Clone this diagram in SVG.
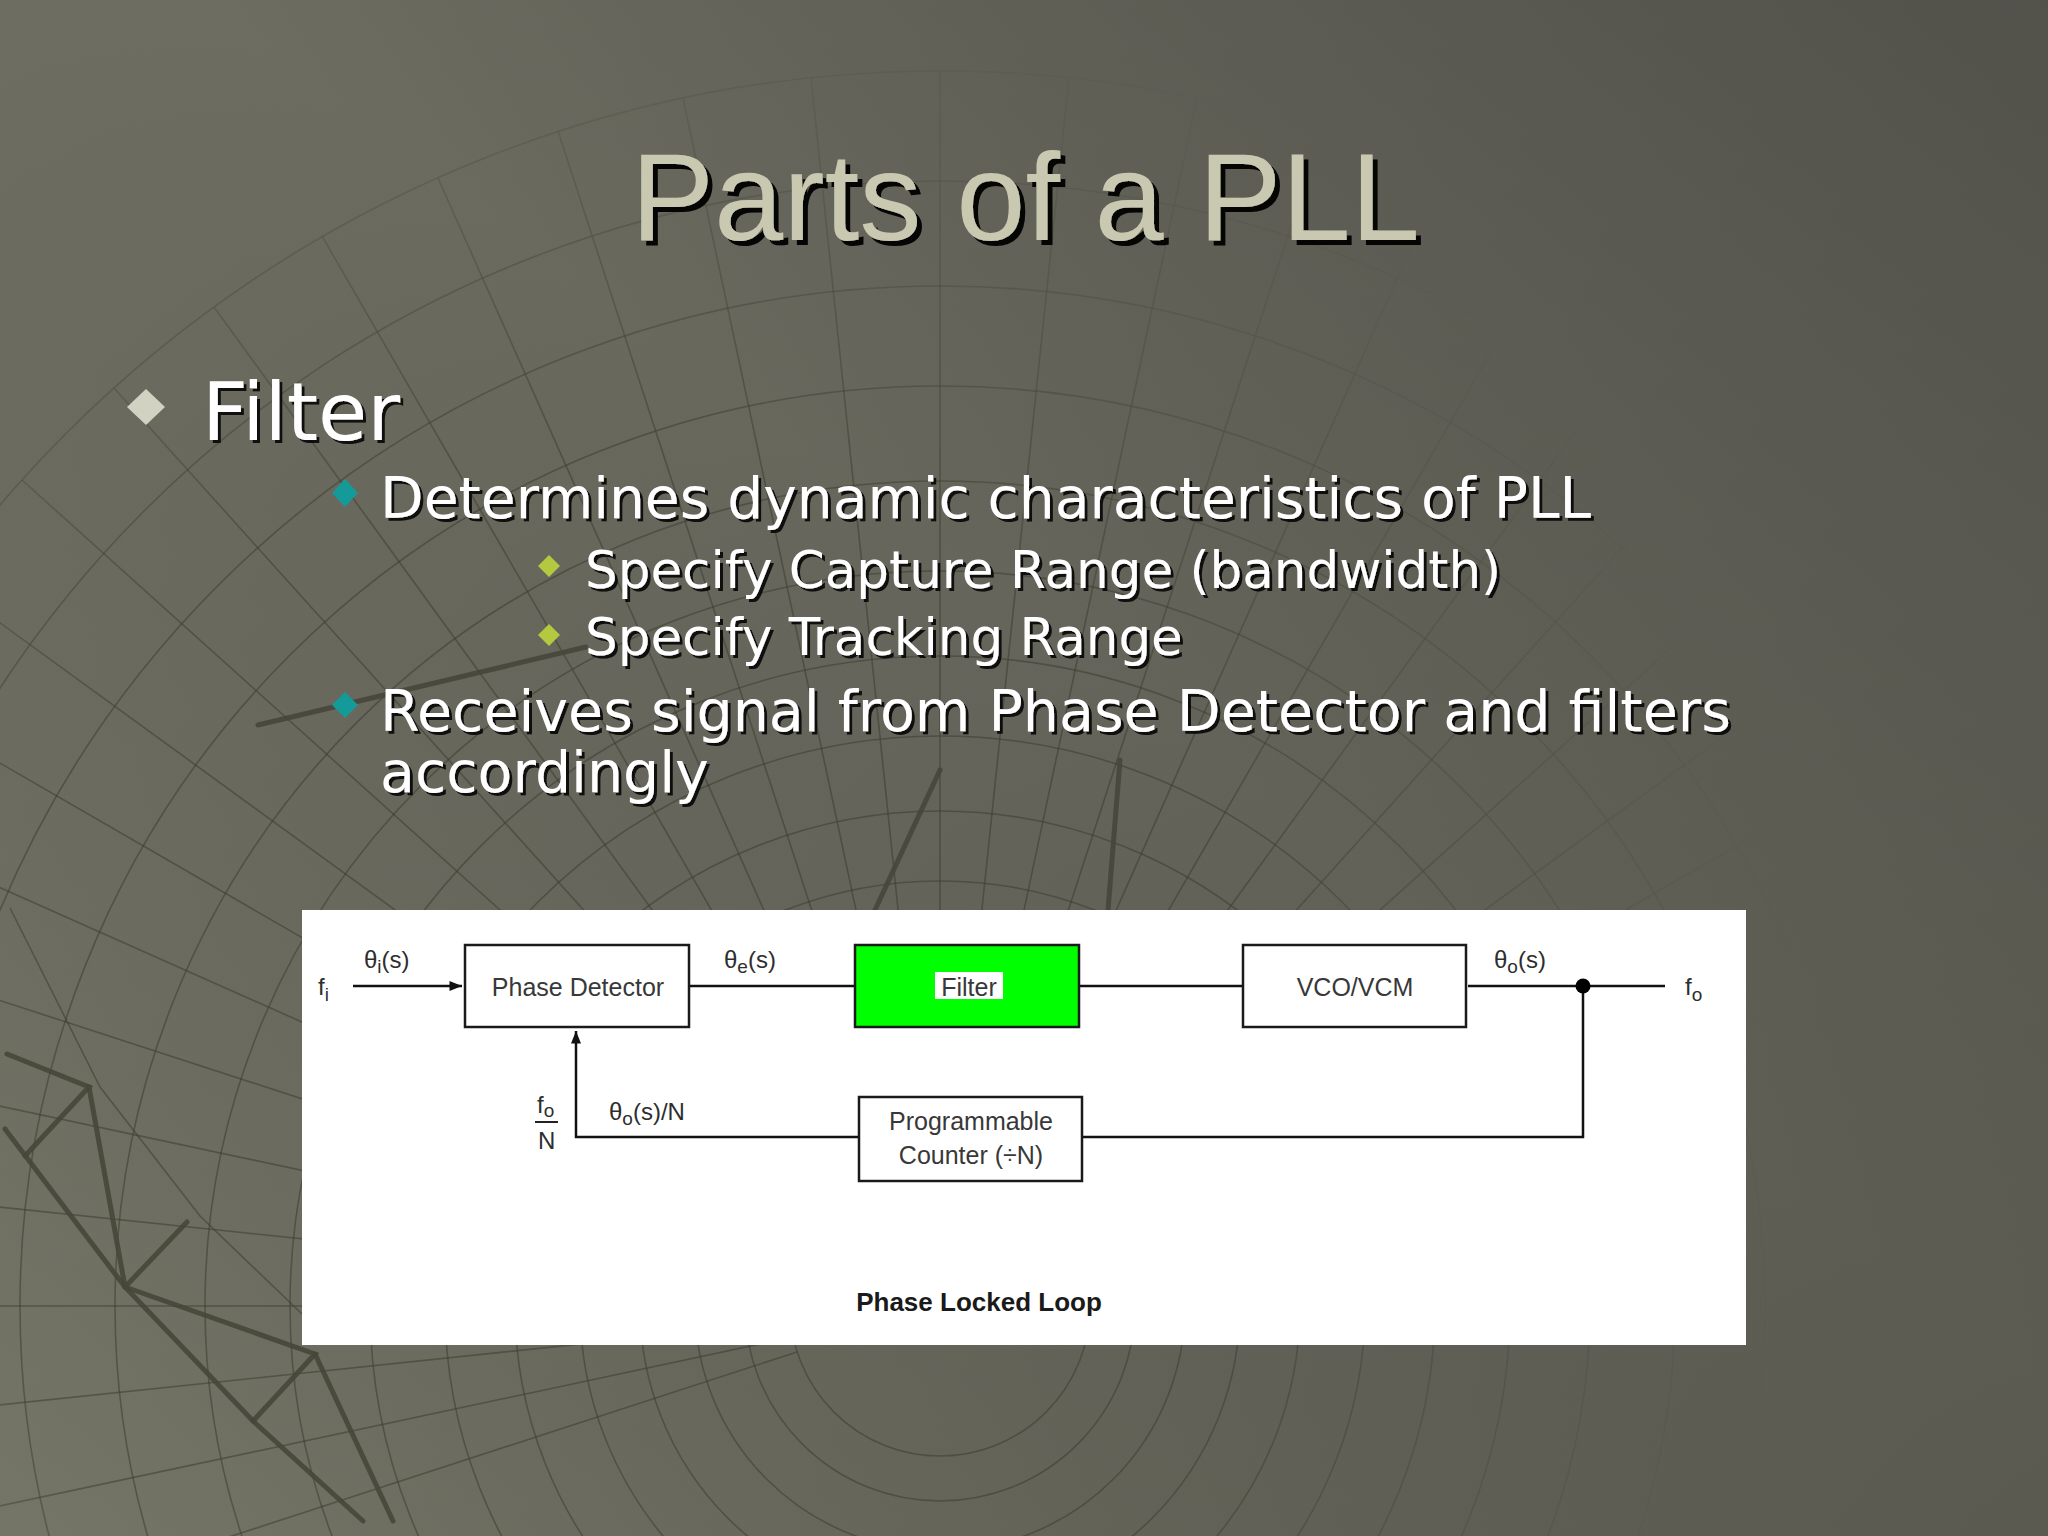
<svg xmlns="http://www.w3.org/2000/svg" width="2048" height="1536" viewBox="0 0 2048 1536">
<defs>
  <linearGradient id="bg" x1="0" y1="0" x2="1" y2="1">
    <stop offset="0" stop-color="#6e6e62"/>
    <stop offset="0.5" stop-color="#64645a"/>
    <stop offset="1" stop-color="#5a5a50"/>
  </linearGradient>
  <linearGradient id="bg2" x1="1" y1="0" x2="0" y2="1">
    <stop offset="0" stop-color="#50504a" stop-opacity="0.9"/>
    <stop offset="0.45" stop-color="#50504a" stop-opacity="0"/>
    <stop offset="0.8" stop-color="#7c7c6c" stop-opacity="0.25"/>
    <stop offset="1" stop-color="#808070" stop-opacity="0.6"/>
  </linearGradient>
  <radialGradient id="fade" cx="620" cy="1100" r="1180" gradientUnits="userSpaceOnUse">
    <stop offset="0" stop-color="#fff"/>
    <stop offset="0.55" stop-color="#fff"/>
    <stop offset="1" stop-color="#000"/>
  </radialGradient>
  <mask id="meshMask">
    <rect x="0" y="0" width="2048" height="1536" fill="url(#fade)"/>
  </mask>
  <filter id="sh" x="-5%" y="-20%" width="110%" height="140%">
    <feDropShadow dx="3" dy="3" stdDeviation="0.6" flood-color="#000" flood-opacity="0.85"/>
  </filter>
  <filter id="shT" x="-5%" y="-20%" width="110%" height="140%">
    <feDropShadow dx="5" dy="5" stdDeviation="0.5" flood-color="#000" flood-opacity="0.95"/>
  </filter>
  <marker id="arr" viewBox="0 0 10 10" refX="10" refY="5" markerWidth="6" markerHeight="5" markerUnits="strokeWidth" orient="auto">
    <path d="M0,1 L10,5 L0,9 Z" fill="#111"/>
  </marker>
  <style>
    .mesh { fill: none; stroke: #3c3c32; stroke-width: 1.6; stroke-opacity: 0.55; }
    .thick { fill: none; stroke: #46463a; stroke-width: 5; stroke-linecap: round; stroke-opacity: 0.9; }
    .body { font-family: "DejaVu Sans", Verdana, sans-serif; fill: #ffffff; filter: url(#sh); }
    .box { fill: #ffffff; stroke: #1a1a1a; stroke-width: 2.5; }
    .wire { fill: none; stroke: #111; stroke-width: 2.5; }
    .lbl { font-family: "Liberation Sans", Arial, sans-serif; font-size: 24px; fill: #2e2e2e; }
    .blbl { font-family: "Liberation Sans", Arial, sans-serif; font-size: 25px; fill: #383838; text-anchor: middle; }
  </style>
</defs>

<!-- background -->
<rect x="0" y="0" width="2048" height="1536" fill="url(#bg)"/>
<rect x="0" y="0" width="2048" height="1536" fill="url(#bg2)"/>

<!-- background mesh -->
<g id="mesh" mask="url(#meshMask)">
  <g class="mesh">
    <circle cx="940" cy="1306" r="150"/>
    <circle cx="940" cy="1306" r="195"/>
    <circle cx="940" cy="1306" r="245"/>
    <circle cx="940" cy="1306" r="300"/>
    <circle cx="940" cy="1306" r="360"/>
    <circle cx="940" cy="1306" r="425"/>
    <circle cx="940" cy="1306" r="495"/>
    <circle cx="940" cy="1306" r="570"/>
    <circle cx="940" cy="1306" r="650"/>
    <circle cx="940" cy="1306" r="735"/>
    <circle cx="940" cy="1306" r="825"/>
    <circle cx="940" cy="1306" r="920"/>
    <circle cx="940" cy="1306" r="1020"/>
    <circle cx="940" cy="1306" r="1125"/>
    <circle cx="940" cy="1306" r="1235"/>
  </g>
  <g class="mesh" transform="translate(940 1306)">
    <path d="M-150,0 L-1235,0"/>
    <path d="M-149,-16 L-1228,-129"/>
    <path d="M-147,-31 L-1208,-257"/>
    <path d="M-143,-46 L-1175,-382"/>
    <path d="M-137,-61 L-1128,-502"/>
    <path d="M-130,-75 L-1070,-618"/>
    <path d="M-121,-88 L-999,-726"/>
    <path d="M-111,-100 L-918,-826"/>
    <path d="M-100,-111 L-826,-918"/>
    <path d="M-88,-121 L-726,-999"/>
    <path d="M-75,-130 L-618,-1070"/>
    <path d="M-61,-137 L-502,-1128"/>
    <path d="M-46,-143 L-382,-1175"/>
    <path d="M-31,-147 L-257,-1208"/>
    <path d="M-16,-149 L-129,-1228"/>
    <path d="M0,-150 L0,-1235"/>
    <path d="M16,-149 L129,-1228"/>
    <path d="M31,-147 L257,-1208"/>
    <path d="M46,-143 L382,-1175"/>
    <path d="M61,-137 L502,-1128"/>
    <path d="M75,-130 L618,-1070"/>
    <path d="M88,-121 L726,-999"/>
    <path d="M100,-111 L826,-918"/>
    <path d="M111,-100 L918,-826"/>
    <path d="M121,-88 L999,-726"/>
    <path d="M130,-75 L1070,-618"/>
    <path d="M-149,16 L-1228,129"/>
    <path d="M-147,31 L-1208,257"/>
    <path d="M-143,46 L-1175,382"/>
  </g>
  <g class="thick">
    <path d="M7,1054 L89,1087 L25,1156"/>
    <path d="M89,1087 L125,1287"/>
    <path d="M5,1129 L125,1287 L253,1421 L363,1521"/>
    <path d="M125,1287 L187,1222"/>
    <path d="M125,1287 L315,1354 L253,1421"/>
    <path d="M315,1354 L393,1521"/>
    <path d="M258,725 L586,647"/>
    <path d="M875,910 L940,770"/>
    <path d="M1108,910 L1120,760"/>
  </g>
  <path class="mesh" d="M10,908 L100,1087 L200,1216 L302,1314" stroke-width="3"/>
</g>

<!-- title -->
<text id="title" x="631" y="240" font-family="Liberation Sans, Arial, sans-serif" font-size="124" fill="#c9c9b2" filter="url(#shT)" textLength="789" lengthAdjust="spacingAndGlyphs">Parts of a PLL</text>

<!-- bullets -->
<g id="bullets">
  <path d="M146,389 L165,407 L146,425 L127,407 Z" fill="#d2d2c2"/>
  <text class="body" x="202" y="440" font-size="80">Filter</text>

  <path d="M345,479 L358,493 L345,507 L332,493 Z" fill="#159a9a"/>
  <text class="body" x="380" y="518" font-size="56.7">Determines dynamic characteristics of PLL</text>

  <path d="M549,555 L560,566 L549,577 L538,566 Z" fill="#b4c840"/>
  <text class="body" x="585" y="588" font-size="51.5">Specify Capture Range (bandwidth)</text>

  <path d="M549,624 L560,635 L549,646 L538,635 Z" fill="#b4c840"/>
  <text class="body" x="585" y="655" font-size="51.5">Specify Tracking Range</text>

  <path d="M345,692 L358,705 L345,718 L332,705 Z" fill="#159a9a"/>
  <text class="body" x="380" y="731" font-size="57">Receives signal from Phase Detector and filters</text>
  <text class="body" x="380" y="792" font-size="57">accordingly</text>
</g>

<!-- diagram panel -->
<rect id="panel" x="302" y="910" width="1444" height="435" fill="#ffffff"/>

<g id="connectors">
  <path class="wire" d="M353,986 L462,986" marker-end="url(#arr)"/>
  <path class="wire" d="M689,986 L855,986"/>
  <path class="wire" d="M1079,986 L1243,986"/>
  <path class="wire" d="M1468,986 L1665,986"/>
  <path class="wire" d="M1583,986 L1583,1137 L1082,1137"/>
  <path class="wire" d="M859,1137 L576,1137 L576,1031" marker-end="url(#arr)"/>
  <circle cx="1583" cy="986" r="7.5" fill="#000"/>
  <path d="M535,1122 L558,1122" stroke="#222" stroke-width="2"/>
</g>

<g id="pd">
  <rect class="box" x="465" y="945" width="224" height="82"/>
  <text class="blbl" x="578" y="996">Phase Detector</text>
</g>
<g id="filter">
  <rect x="855" y="945" width="224" height="82" fill="#00ff00" stroke="#1a1a1a" stroke-width="2.5"/>
  <rect x="935" y="972" width="68" height="27" fill="#ffffff"/>
  <text class="blbl" x="969" y="996">Filter</text>
</g>
<g id="vco">
  <rect class="box" x="1243" y="945" width="223" height="82"/>
  <text class="blbl" x="1355" y="996">VCO/VCM</text>
</g>
<g id="counter">
  <rect class="box" x="859" y="1097" width="223" height="84"/>
  <text class="blbl" x="971" y="1130">Programmable</text>
  <text class="blbl" x="971" y="1164">Counter (÷N)</text>
</g>

<g id="labels">
  <text class="lbl" x="318" y="995">f<tspan font-size="19" dy="6">i</tspan></text>
  <text class="lbl" x="364" y="968">θ<tspan font-size="19" dy="5">i</tspan><tspan dy="-5">(s)</tspan></text>
  <text class="lbl" x="724" y="968">θ<tspan font-size="19" dy="5">e</tspan><tspan dy="-5">(s)</tspan></text>
  <text class="lbl" x="1494" y="968">θ<tspan font-size="19" dy="5">o</tspan><tspan dy="-5">(s)</tspan></text>
  <text class="lbl" x="1685" y="995">f<tspan font-size="19" dy="6">o</tspan></text>
  <text class="lbl" x="537" y="1113">f<tspan font-size="19" dy="4">o</tspan></text>
  <text class="lbl" x="538" y="1149">N</text>
  <text class="lbl" x="609" y="1120">θ<tspan font-size="19" dy="5">o</tspan><tspan dy="-5">(s)/N</tspan></text>
  <text x="979" y="1311" font-family="Liberation Sans, Arial, sans-serif" font-size="26" font-weight="bold" fill="#1a1a1a" text-anchor="middle">Phase Locked Loop</text>
</g>
</svg>
